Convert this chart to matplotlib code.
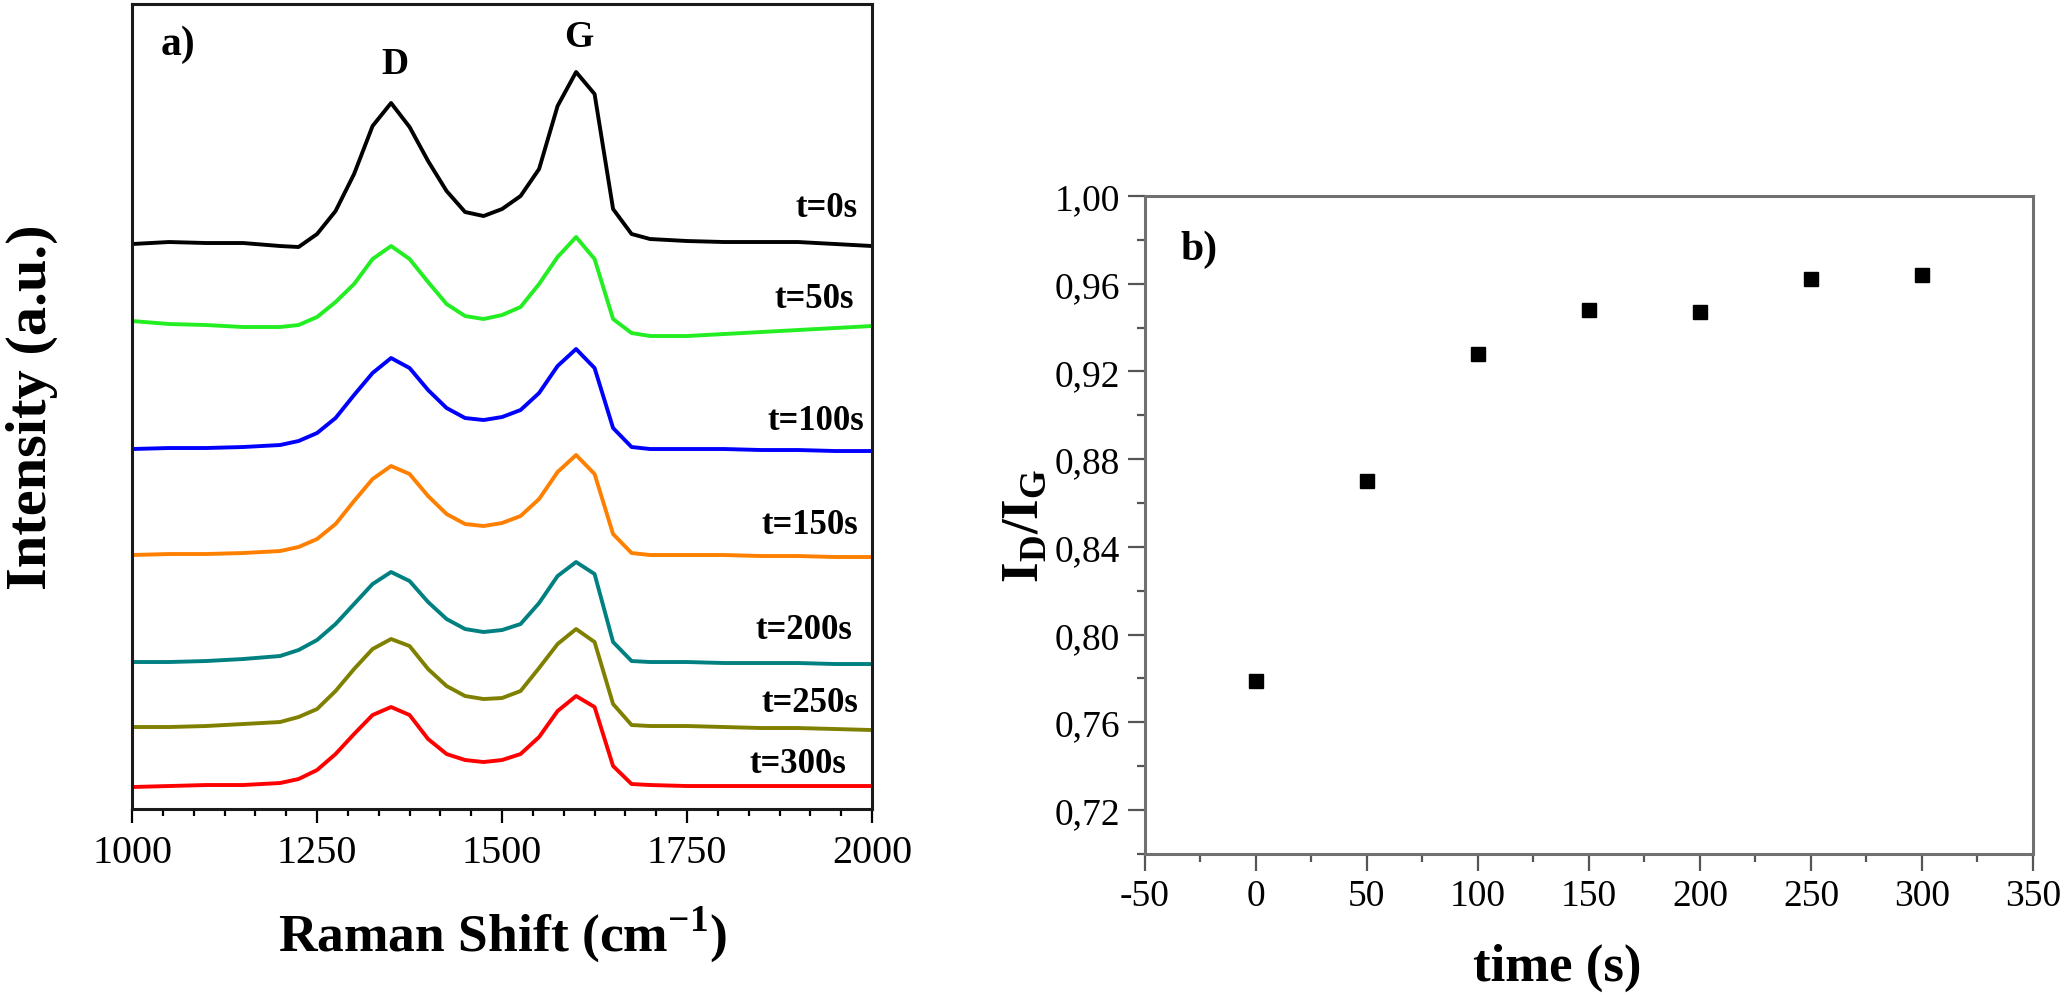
import matplotlib
matplotlib.use('Agg')
import matplotlib.pyplot as plt
from matplotlib.ticker import MultipleLocator, AutoMinorLocator, FuncFormatter

plt.rcParams['font.family'] = ['Liberation Serif', 'DejaVu Serif']
plt.rcParams['mathtext.fontset'] = 'custom'
plt.rcParams['mathtext.rm'] = 'Liberation Serif'
plt.rcParams['mathtext.bf'] = 'Liberation Serif:bold'
plt.rcParams['axes.unicode_minus'] = False

# --- panel a) Raman spectra (intensity in a.u., read off the picture) ---
wavenumber = [1000, 1050, 1100, 1150, 1200, 1225, 1250, 1275, 1300, 1325,
              1350, 1375, 1400, 1425, 1450, 1475, 1500, 1525, 1550, 1575,
              1600, 1625, 1650, 1675, 1700, 1750, 1800, 1850, 1900, 1950, 2000]

int_0s = [565, 567, 566, 566, 563, 562, 575, 598, 635, 683,
          706, 682, 648, 618, 597, 593, 600, 613, 640, 703,
          737, 715, 600, 575, 570, 568, 567, 567, 567, 565, 563]
int_50s = [488, 485, 484, 482, 482, 484, 492, 507, 525, 550,
           563, 550, 527, 505, 493, 490, 494, 502, 525, 552,
           572, 550, 490, 476, 473, 473, 475, 477, 479, 481, 483]
int_100s = [360, 361, 361, 362, 364, 368, 376, 391, 414, 436,
            451, 441, 419, 401, 391, 389, 392, 399, 416, 443,
            460, 441, 381, 362, 360, 360, 360, 359, 359, 358, 358]
int_150s = [254, 255, 255, 256, 258, 262, 270, 285, 308, 330,
            343, 335, 313, 295, 285, 283, 286, 293, 310, 337,
            354, 335, 275, 256, 254, 254, 254, 253, 253, 252, 252]
int_200s = [147, 147, 148, 150, 153, 159, 169, 185, 205, 225,
            237, 228, 207, 190, 180, 177, 179, 185, 206, 233,
            247, 235, 167, 148, 147, 147, 146, 146, 146, 145, 145]
int_250s = [82, 82, 83, 85, 87, 92, 100, 118, 140, 160,
            170, 163, 140, 123, 113, 110, 111, 118, 141, 165,
            180, 167, 105, 84, 83, 83, 82, 81, 81, 80, 79]
int_300s = [22, 23, 24, 24, 26, 30, 39, 55, 75, 94,
            102, 94, 70, 55, 49, 47, 49, 55, 72, 98,
            113, 102, 43, 25, 24, 23, 23, 23, 23, 23, 23]

spectra = [int_0s, int_50s, int_100s, int_150s, int_200s, int_250s, int_300s]
spectra_labels = ['t=0s', 't=50s', 't=100s', 't=150s', 't=200s', 't=250s', 't=300s']
spectra_colors = ['#000000', '#22ee22', '#0000ff', '#ff8000', '#008080', '#808000', '#ff0000']
label_x = [1980, 1976, 1989, 1981, 1973, 1981, 1965]
label_y = [593, 502, 380, 276, 171, 98, 37]

# --- panel b) ID/IG ratio vs time ---
time_s = [0, 50, 100, 150, 200, 250, 300]
id_ig = [0.779, 0.870, 0.928, 0.948, 0.947, 0.962, 0.964]

fig = plt.figure(figsize=(20.7, 10.03), dpi=100)

# panel a
ax1 = fig.add_axes([0.0638, 0.1924, 0.3575, 0.8026])
for y, c in zip(spectra, spectra_colors):
    ax1.plot(wavenumber, y, color=c, lw=2.8, solid_joinstyle='round')
for lab, x, y in zip(spectra_labels, label_x, label_y):
    ax1.text(x, y, lab, ha='right', va='baseline', fontsize=25, fontweight='bold')

ax1.text(1038, 755, 'a)', ha='left', va='baseline', fontsize=30, fontweight='bold')
ax1.text(1355, 736, 'D', ha='center', va='baseline', fontsize=27, fontweight='bold')
ax1.text(1603, 763, 'G', ha='center', va='baseline', fontsize=27, fontweight='bold')

ax1.set_xlim(1000, 2000)
ax1.set_ylim(0, 805)
ax1.xaxis.set_major_locator(MultipleLocator(250))
ax1.xaxis.set_minor_locator(AutoMinorLocator(6))
ax1.set_yticks([])
ax1.tick_params(axis='x', which='major', direction='out', length=10, width=1.6,
                labelsize=29, pad=8)
ax1.tick_params(axis='x', which='minor', direction='out', length=5, width=1.6)
for sp in ax1.spines.values():
    sp.set_linewidth(2.2)
    sp.set_color('#1a1a1a')

ax1.set_xlabel('Raman Shift (cm$^{\\mathbf{-1}}$)', fontsize=38.5, fontweight='bold')
ax1.xaxis.label.set_verticalalignment('center')
ax1.xaxis.set_label_coords(0.5, -0.155)
ax1.set_ylabel('Intensity (a.u.)', fontsize=42, fontweight='bold')
ax1.yaxis.label.set_verticalalignment('center')
ax1.yaxis.set_label_coords(-0.135, 0.5)

# panel b
ax2 = fig.add_axes([0.5531, 0.1476, 0.4290, 0.6560])
ax2.plot(time_s, id_ig, linestyle='none', marker='s', markersize=10.5, color='black')
ax2.text(0.04, 0.92, 'b)', transform=ax2.transAxes, ha='left', va='center',
         fontsize=30, fontweight='bold')

ax2.set_xlim(-50, 350)
ax2.set_ylim(0.70, 1.00)
ax2.xaxis.set_major_locator(MultipleLocator(50))
ax2.xaxis.set_minor_locator(MultipleLocator(25))
ax2.set_yticks([0.72, 0.76, 0.80, 0.84, 0.88, 0.92, 0.96, 1.00])
ax2.yaxis.set_minor_locator(MultipleLocator(0.02))
ax2.yaxis.set_major_formatter(FuncFormatter(lambda v, p: f'{v:.2f}'.replace('.', ',')))
ax2.tick_params(which='major', direction='out', length=12, width=1.6,
                labelsize=27, pad=6, color='#555555')
ax2.tick_params(which='minor', direction='out', length=6, width=1.6, color='#555555')
for sp in ax2.spines.values():
    sp.set_linewidth(2.2)
    sp.set_color('#707070')

ax2.set_xlabel('time (s)', fontsize=38, fontweight='bold')
ax2.xaxis.label.set_verticalalignment('center')
ax2.xaxis.set_label_coords(0.464, -0.172)
ax2.set_ylabel('I$_{\\mathbf{D}}$/I$_{\\mathbf{G}}$', fontsize=38, fontweight='bold')
ax2.yaxis.label.set_verticalalignment('center')
ax2.yaxis.set_label_coords(-0.135, 0.5)

fig.savefig('out.png', dpi=100)
